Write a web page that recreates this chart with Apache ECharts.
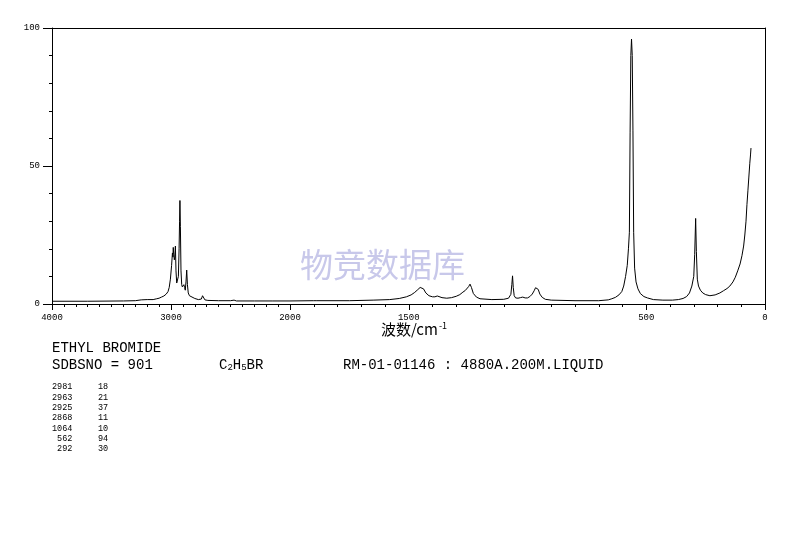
<!DOCTYPE html>
<html>
<head>
<meta charset="utf-8">
<script src="https://cdn.jsdelivr.net/npm/echarts@6/dist/echarts.min.js"></script>
<style>html,body{margin:0;padding:0;background:#fff}#c{width:794px;height:539px}</style>
</head>
<body>
<div id="c"></div>
<script>
// Raman spectrum of ethyl bromide (wavenumber cm-1, relative intensity)
var wavenumbers = [
  4000,3700,3400,3300,3250,3200,3150,3120,3100,3080,3060,3040,3025,3015,3005,2995,2988,2984,2981,2977,
  2972,2968,2963,2958,2952,2945,2938,2932,2928,2925,2921,2916,2910,2905,2898,2892,2886,2880,2874,2868,
  2862,2855,2845,2830,2800,2770,2745,2735,2731,2727,2715,2690,2600,2500,2470,2450,2300,2150,2000,
  1900,1895,1890,1750,1650,1580,1540,1510,1490,1475,1462,1452,1445,1438,1428,1415,1400,1390,1380,1375,
  1360,1340,1320,1300,1285,1272,1262,1255,1248,1242,1236,1228,1215,1200,1150,1100,1080,1070,1066,1063,
  1060,1056,1050,1040,1030,1020,1010,1000,990,980,972,966,961,955,948,938,925,900,800,700,
  660,645,630,615,603,595,587,580,575,571,568,565,562,559,556,553,549,543,535,525,
  510,495,470,430,390,365,345,330,318,308,300,296,292,289,285,280,272,262,250,232,
  210,190,175,160,148,135,125,115,105,97,90,85,80,76,72,68,64,61,59
];
var intensities = [
  1.0,1.0,1.1,1.2,1.5,1.6,1.6,1.9,2.1,2.5,2.9,3.6,4.5,6.0,9.0,14.0,18.5,17.0,20.5,18.0,
  16.0,17.0,21.0,12.0,7.6,7.0,10.0,20.0,30.0,37.5,28.0,12.0,7.0,6.2,6.0,7.0,6.0,5.0,8.0,12.3,
  7.0,4.0,3.0,2.4,2.0,1.6,1.8,3.0,3.6,2.6,1.5,1.3,1.2,1.2,1.4,1.1,1.1,1.1,1.1,
  1.2,1.5,1.2,1.2,1.4,1.6,2.0,2.6,3.3,4.2,5.2,6.0,6.3,5.5,4.0,3.0,2.6,2.6,2.9,2.8,
  2.3,2.1,2.3,2.8,3.4,4.3,4.9,5.2,6.3,7.2,6.0,3.8,2.5,1.9,1.6,1.7,2.1,3.5,7.0,10.2,
  6.0,3.0,2.2,2.1,2.3,2.5,2.2,2.2,2.7,3.6,4.8,5.9,6.4,5.3,3.6,2.4,1.7,1.4,1.2,1.2,
  1.5,1.9,2.4,3.3,4.5,6.5,10,14,20,26,62,90,96,90,63,26,13,8,5.5,3.8,
  2.7,2.2,1.6,1.4,1.4,1.6,2.0,2.7,4.0,6.5,10,18,31,19,9,6.5,5,4,3.4,3.0,
  3.3,4.0,4.8,5.6,6.5,8.0,9.7,12,14.5,17.5,21,25,30,36,41,46,51,54,56.5
];
var xLabelsHigh = [4000, 3000, 2000];
var xLabelsLow = [1500, 500, 0];
var yLabels = [0, 50, 100];
var compoundName = 'ETHYL BROMIDE';
var sdbsNo = 'SDBSNO = 901';
var measurement = 'RM-01-01146 : 4880A.200M.LIQUID';
var peakWavenumbers = [2981, 2963, 2925, 2868, 1064, 562, 292];
var peakIntensities = [18, 21, 37, 11, 10, 94, 30];

var high = [], low = [];
for (var i = 0; i < wavenumbers.length; i++) {
  if (wavenumbers[i] >= 2000) high.push([wavenumbers[i], intensities[i]]);
  if (wavenumbers[i] <= 2000) low.push([wavenumbers[i], intensities[i]]);
}

var mono = 'Liberation Mono';
var black = '#000';
var lineStyle = {color: black, width: 1};
var peakText = peakWavenumbers.map(function (w, i) {
  var s = String(w); while (s.length < 4) s = ' ' + s;
  return s + '     ' + peakIntensities[i];
}).join('\n');

var chart = echarts.init(document.getElementById('c'), null, {renderer: 'canvas'});
chart.setOption({
  animation: false,
  backgroundColor: '#fff',
  grid: [
    {left: 52, top: 28, width: 238, height: 276},
    {left: 290, top: 28, width: 475, height: 276}
  ],
  xAxis: [
    {gridIndex: 0, type: 'value', min: 2000, max: 4000, inverse: true, interval: 1000,
     axisLine: {show: true, lineStyle: lineStyle},
     axisTick: {show: true, length: 6, lineStyle: lineStyle},
     minorTick: {show: true, splitNumber: 10, length: 3, lineStyle: lineStyle},
     splitLine: {show: false}, minorSplitLine: {show: false},
     axisLabel: {margin: 9, fontFamily: mono, fontSize: 9, color: black,
       formatter: function (v) { return xLabelsHigh.indexOf(v) >= 0 ? String(v) : ''; }}},
    {gridIndex: 1, type: 'value', min: 0, max: 2000, inverse: true, interval: 500,
     axisLine: {show: true, lineStyle: lineStyle},
     axisTick: {show: true, length: 6, lineStyle: lineStyle, customValues: xLabelsLow},
     minorTick: {show: true, splitNumber: 5, length: 3, lineStyle: lineStyle},
     splitLine: {show: false}, minorSplitLine: {show: false},
     axisLabel: {margin: 9, fontFamily: mono, fontSize: 9, color: black,
       formatter: function (v) { return xLabelsLow.indexOf(v) >= 0 ? String(v) : ''; }}},
    {gridIndex: 0, type: 'value', min: 2000, max: 4000, inverse: true, position: 'top',
     axisLine: {show: true, lineStyle: lineStyle}, axisTick: {show: false}, axisLabel: {show: false}, splitLine: {show: false}},
    {gridIndex: 1, type: 'value', min: 0, max: 2000, inverse: true, position: 'top',
     axisLine: {show: true, lineStyle: lineStyle}, axisTick: {show: false}, axisLabel: {show: false}, splitLine: {show: false}}
  ],
  yAxis: [
    {gridIndex: 0, type: 'value', min: 0, max: 100, interval: 50,
     axisLine: {show: true, lineStyle: lineStyle},
     axisTick: {show: true, length: 9, lineStyle: lineStyle},
     minorTick: {show: true, splitNumber: 5, length: 3, lineStyle: lineStyle},
     splitLine: {show: false}, minorSplitLine: {show: false},
     axisLabel: {margin: 12, fontFamily: mono, fontSize: 9, color: black,
       formatter: function (v) { return yLabels.indexOf(v) >= 0 ? String(v) : ''; }}},
    {gridIndex: 1, type: 'value', min: 0, max: 100, position: 'right',
     axisLine: {show: true, lineStyle: lineStyle}, axisTick: {show: false}, axisLabel: {show: false}, splitLine: {show: false}}
  ],
  graphic: [
    {type: 'text', left: 300, top: 248, z: 0, silent: true,
     style: {text: '物竞数据库', font: '33px "Noto Sans CJK SC"', fill: '#c8c8ea'}},
    {type: 'text', left: 381, top: 321, z: 10,
     style: {text: '波数/cm{sup|-1}', font: '15px "Noto Sans CJK SC"', fill: black,
       rich: {sup: {fontSize: 9, fontFamily: 'Noto Sans CJK SC', verticalAlign: 'top', padding: [0, 0, 8, 1]}}}},
    {type: 'text', left: 52, top: 341, z: 10,
     style: {text: compoundName, font: '14px "Liberation Mono"', fill: black}},
    {type: 'text', left: 52, top: 358, z: 10,
     style: {text: sdbsNo, font: '14px "Liberation Mono"', fill: black}},
    {type: 'text', left: 219, top: 358, z: 10,
     style: {text: 'C{sub|2}H{sub|5}BR', font: '14px "Liberation Mono"', fill: black,
       rich: {sub: {fontSize: 9, fontFamily: 'Liberation Mono', padding: [6, 0, 0, 0]}}}},
    {type: 'text', left: 343, top: 358, z: 10,
     style: {text: measurement, font: '14px "Liberation Mono"', fill: black}},
    {type: 'text', left: 52, top: 382, z: 10,
     style: {text: peakText, font: '8.5px "Liberation Mono"', fill: black, lineHeight: 10.3}}
  ],
  series: [
    {type: 'line', xAxisIndex: 0, yAxisIndex: 0, data: high, showSymbol: false, symbol: 'none',
     lineStyle: {color: black, width: 1}, z: 5},
    {type: 'line', xAxisIndex: 1, yAxisIndex: 1, data: low, showSymbol: false, symbol: 'none',
     lineStyle: {color: black, width: 1}, z: 5}
  ]
});
</script>
</body>
</html>
